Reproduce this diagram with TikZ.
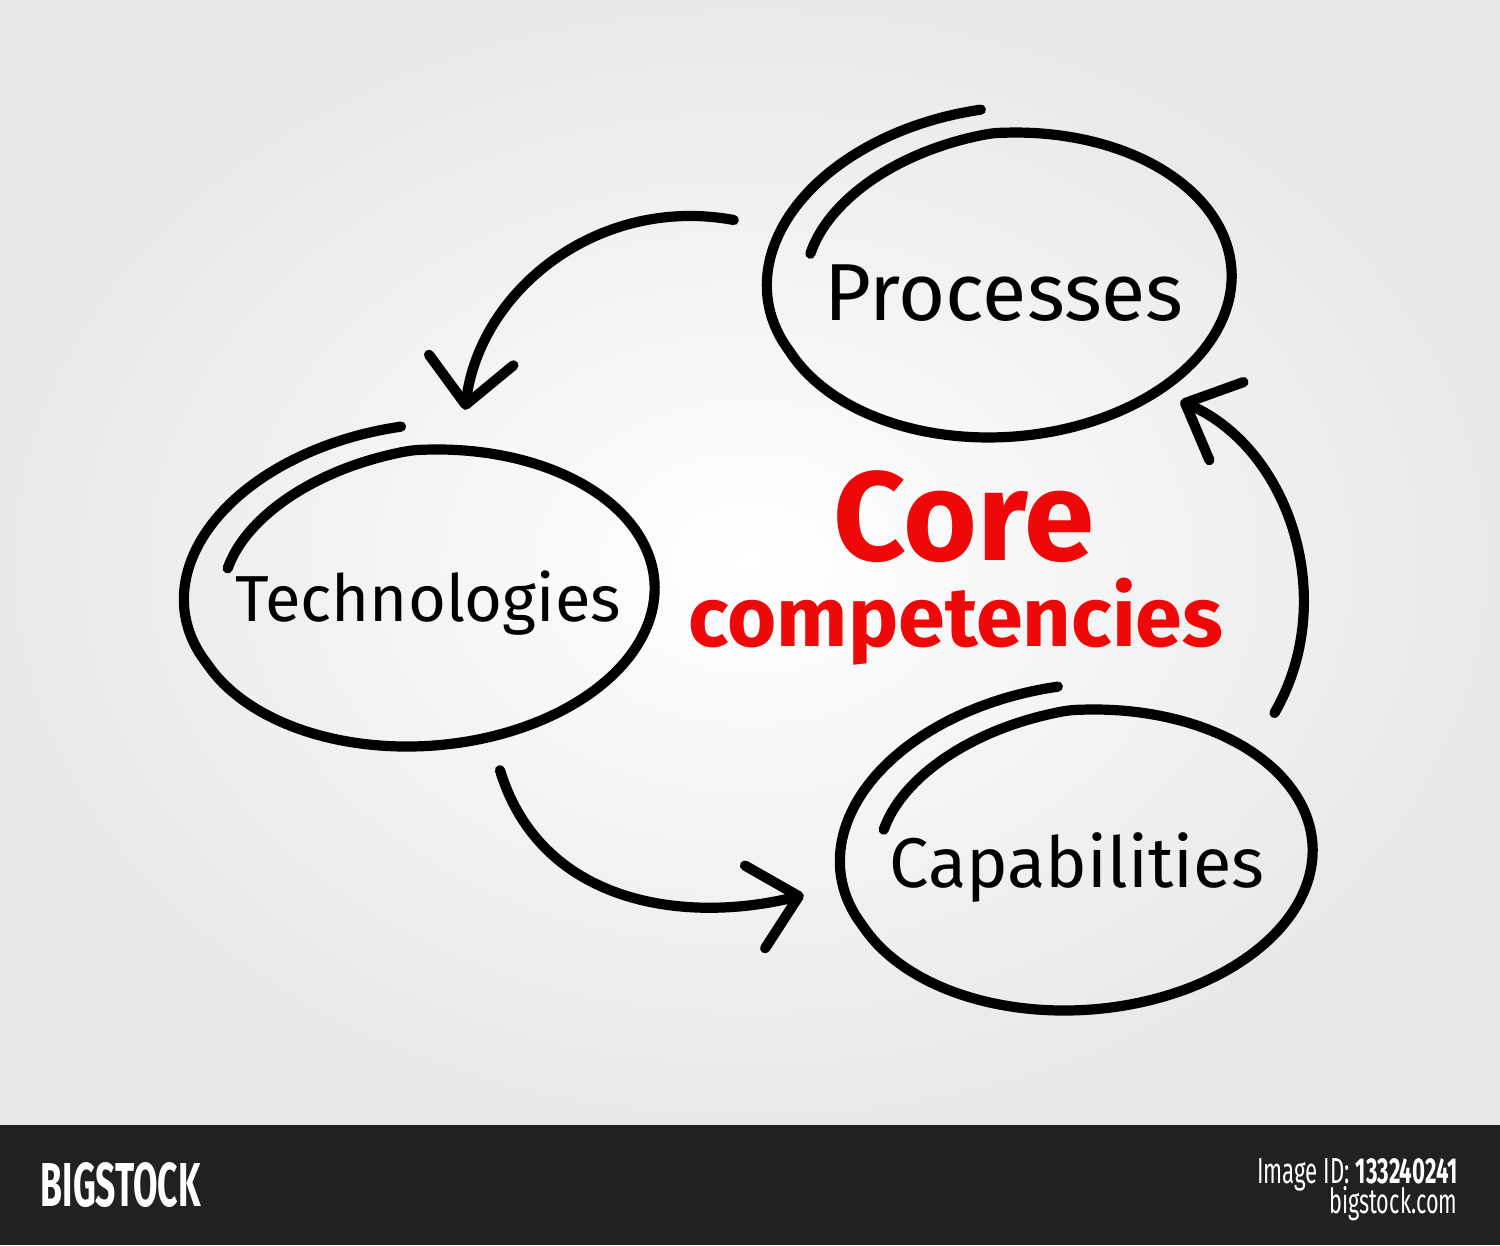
\documentclass[tikz,border=0pt]{standalone}
\usepackage{fontspec}
\setmainfont{Fira Sans}
\usetikzlibrary{shapes.geometric,arrows.meta}
\definecolor{corered}{RGB}{238,8,8}
\definecolor{banner}{RGB}{33,33,33}
% hand drawn oval: one loop and a bit, tilted by -4 degrees
\newcommand{\loopoval}[3]{%
  \draw[swoosh,shift={(#1.center)}] plot[domain=201:628,samples=160,smooth]
    ({(#2+spd(\x))*cos(\x)*cos(-4)-(#3+spd(\x))*sin(\x)*sin(-4)},
     {(#2+spd(\x))*cos(\x)*sin(-4)+(#3+spd(\x))*sin(\x)*cos(-4)});}

\begin{document}
\begin{tikzpicture}[x=0.01cm,y=-0.01cm,
    declare function={spd(\t)=-30*max(0,(270-\t)/75)+25*max(0,(\t-520)/110);},
    oval/.style={ellipse,line width=2.9pt,inner sep=0pt,
        minimum width=4.66cm,minimum height=2.98cm},
    ovaltext/.style={inner sep=0pt,font=\fontsize{#1}{#1}\selectfont},
    swoosh/.style={line width=2.9pt,line cap=round},
    flow/.style={line width=2.9pt,line cap=round,
        -{Straight Barb[length=4.5mm,width=8.5mm,round]}},
    redword/.style={text=corered,anchor=base,inner sep=0pt}]
    \useasboundingbox (0,0) rectangle (1500,1245);
    \shade[inner color=white,outer color=gray!18] (0,0) rectangle (1500,1125);

    % the three ovals
    \node[oval] at (1002,285) (proc) {};
    \node[oval] at (422,598)  (tech) {};
    \node[oval] at (1079,860) (capa) {};
    \loopoval{proc}{230}{152}
    \loopoval{tech}{233}{148}
    \loopoval{capa}{234}{150}
    \node[ovaltext=23] at (1004,293) (procl) {Processes};
    \node[ovaltext=18.5] at (428,603) (techl) {Technologies};
    \node[ovaltext=20] at (1077,868) (capal) {Capabilities};

    % middle title
    \node[redword,font=\fontsize{36}{40}\selectfont\bfseries] at (964,560) (core) {Core};
    \node[redword,font=\fontsize{24}{28}\selectfont\bfseries] at (956,646) (comp) {competencies};

    % the cycle
    \draw[flow] ([shift={(-30,-65)}]proc.west) .. controls +(-135,-25) and +(15,-120) .. ([shift={(43,-34)}]tech.north);
    \draw[flow] ([shift={(78,18)}]tech.south) .. controls +(40,132) and +(-123,30) .. ([shift={(-37,35)}]capa.west);
    \draw[flow] ([shift={(27,-38)}]capa.north east) .. controls +(65,-112) and +(110,48) .. ([shift={(10,7)}]proc.south east);

    % bottom strip
    \fill[banner] (0,1125) rectangle (1500,1245);
    \node[anchor=west,inner sep=0pt,text=white] at (40,1185) (logo)
        {\resizebox{1.6cm}{0.44cm}{\bfseries BIGSTOCK}};
    \node[anchor=north east,inner sep=0pt,text=white] at (1458,1158) (imgid)
        {\resizebox{2.0cm}{0.25cm}{Image ID: \textbf{133240241}}};
    \node[anchor=north east,inner sep=0pt,text=white] at (1458,1186) (site)
        {\resizebox{1.28cm}{0.27cm}{bigstock.com}};
\end{tikzpicture}
\end{document}
